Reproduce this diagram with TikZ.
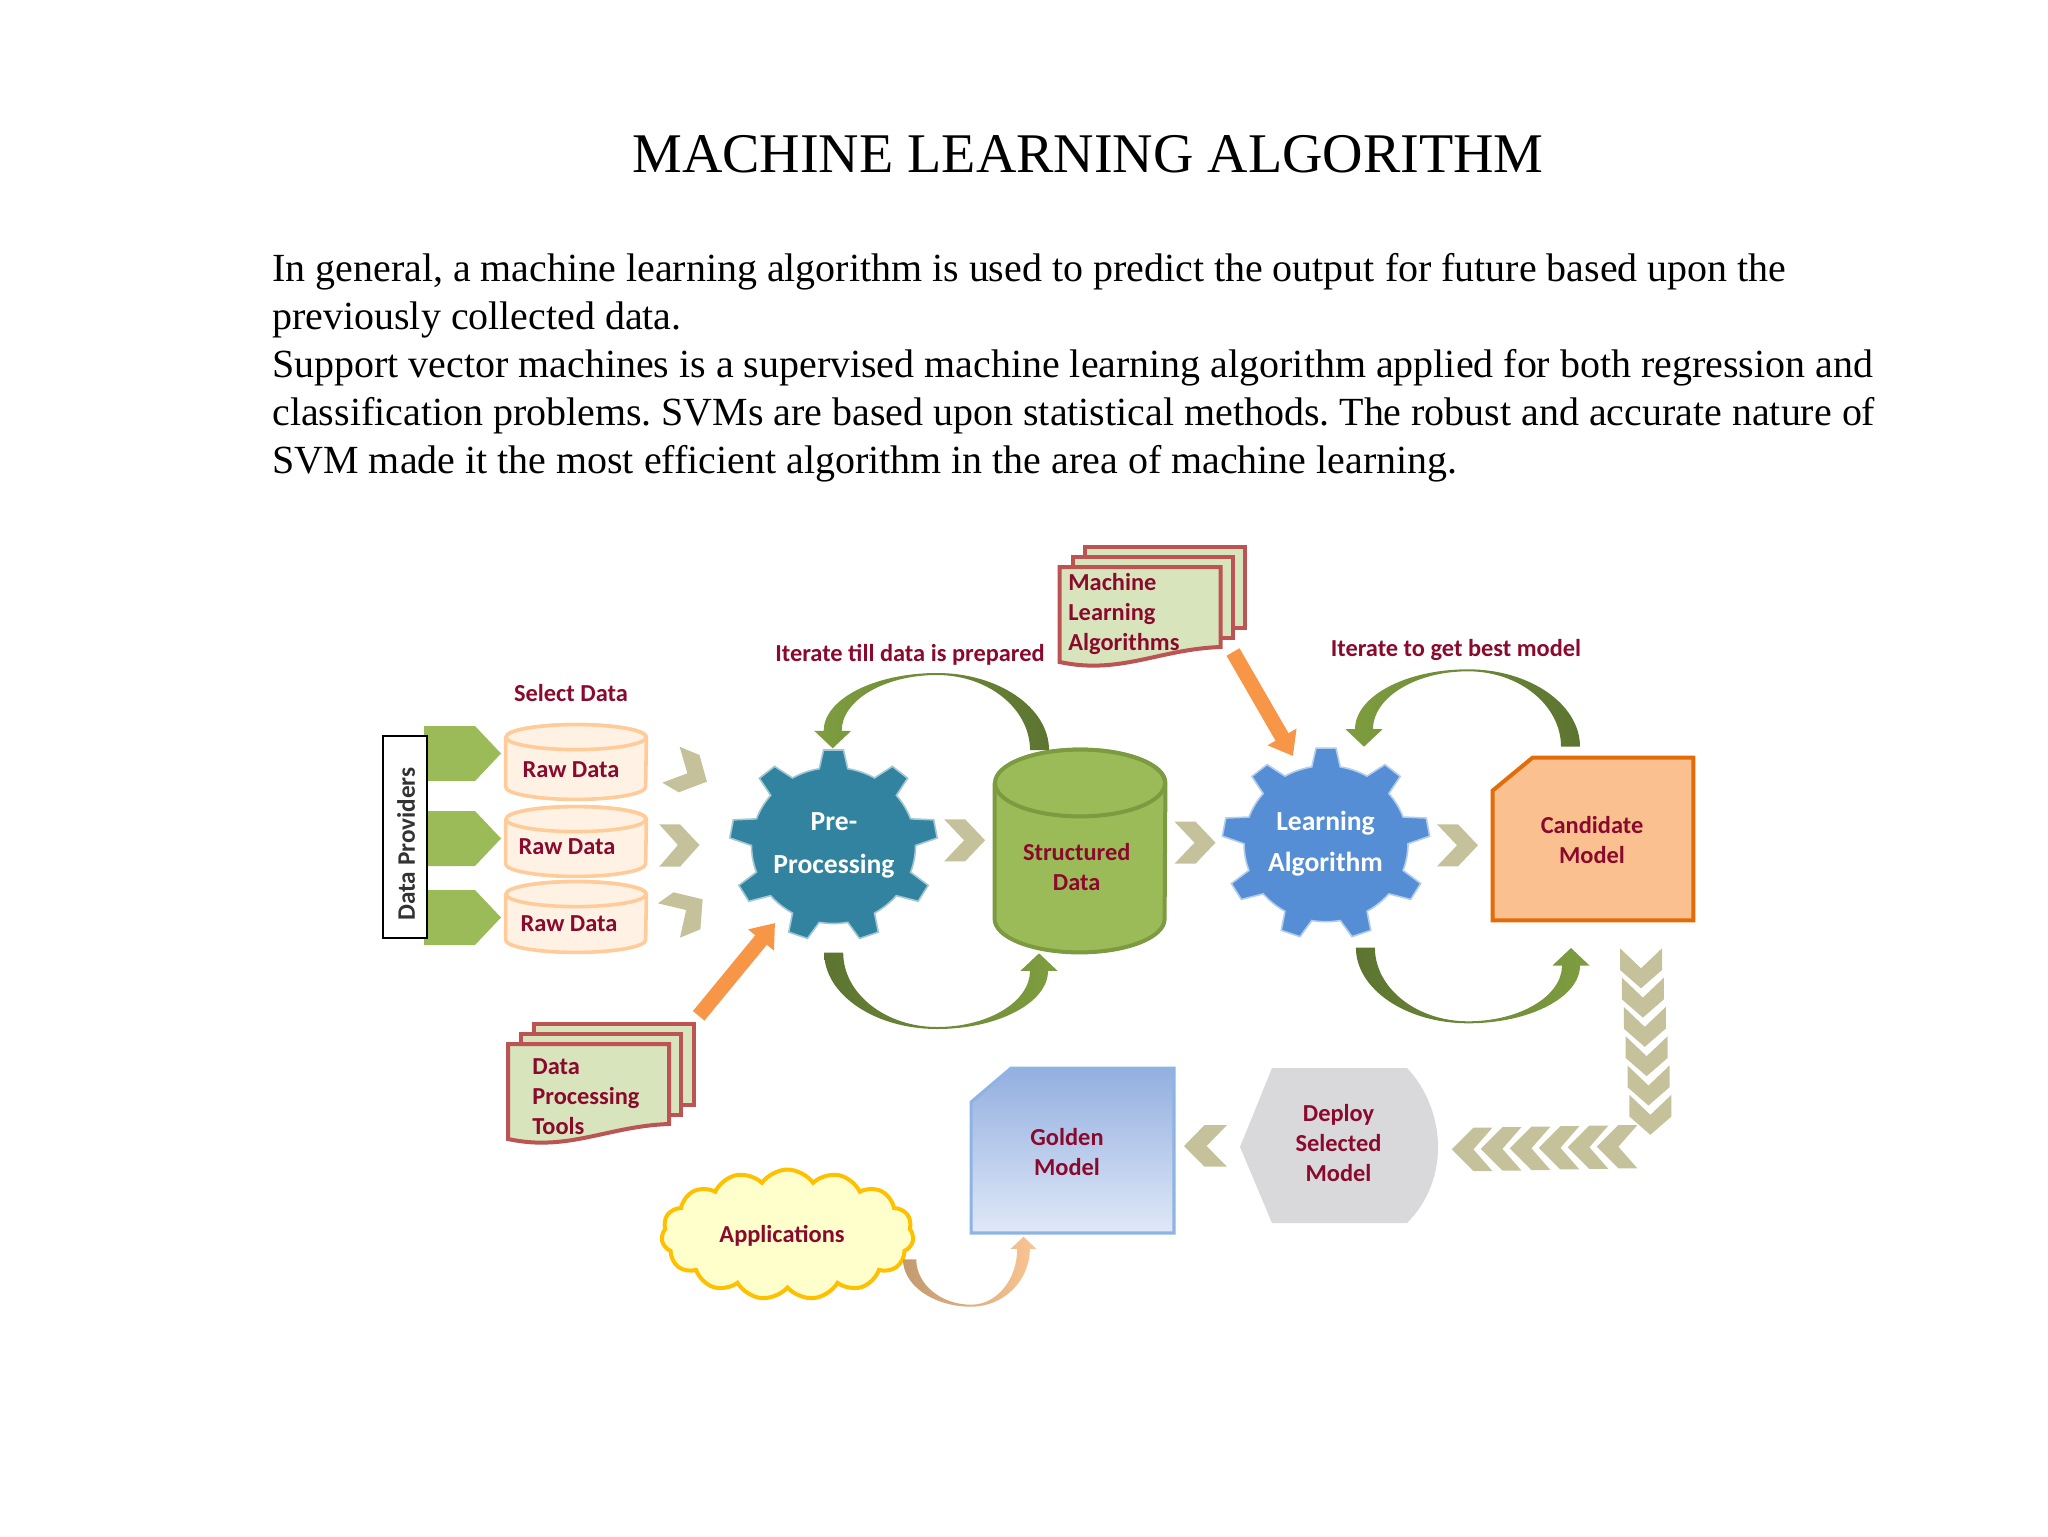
\documentclass[tikz,border=0pt]{standalone}
\usepackage{fontspec}
\setmainfont{Liberation Serif}
\newfontfamily\labelfont{Carlito}
\usetikzlibrary{arrows.meta, positioning, shapes.symbols, calc}

\definecolor{labelred}{HTML}{8A0A2E}
\definecolor{chevcol}{HTML}{C4C19B}
\definecolor{provgreen}{HTML}{9BBB59}
\definecolor{drumline}{HTML}{7C9A3F}
\definecolor{loopdark}{HTML}{5C7430}
\definecolor{looplight}{HTML}{7F9E3F}
\definecolor{pregear}{HTML}{31839F}
\definecolor{learngear}{HTML}{558ED5}
\definecolor{sheetline}{HTML}{BC5454}
\definecolor{sheetfill}{HTML}{D7E4BC}
\definecolor{toolorange}{HTML}{F79646}
\definecolor{deploygrey}{HTML}{D9D8DB}
\definecolor{candline}{HTML}{E36C09}
\definecolor{candfill}{HTML}{FBC08F}
\definecolor{goldtop}{HTML}{93AFE0}
\definecolor{goldbot}{HTML}{E0E8F7}
\definecolor{goldline}{HTML}{8DB4E2}
\definecolor{cloudline}{HTML}{FFC000}
\definecolor{cloudfill}{HTML}{FFFFCC}
\definecolor{appsdark}{HTML}{C29A6E}
\definecolor{appslight}{HTML}{FBC593}

% gear: centre, fill colour
\newcommand{\gearblob}[2]{
    \fill[#2, draw=#2!45, line width=0.8pt] ($(#1)+(80:41pt and 39pt)$)
        \foreach \a in {90,130,...,410} {
            -- ($(#1)+(\a-10:41pt and 39pt)$) -- ($(#1)+(\a-5.5:52pt and 48pt)$)
            -- ($(#1)+(\a+5.5:52pt and 48pt)$) -- ($(#1)+(\a+10:41pt and 39pt)$)
            arc[start angle=\a+10, end angle=\a+30, x radius=41pt, y radius=39pt]
        } -- cycle;
}

% drum around a node: node, style, end radius
\newcommand{\drum}[3]{
    \draw[#2] ($(#1.north west)-(0,#3)$) -- ($(#1.south west)+(0,#3)$)
        arc[start angle=180, end angle=360, x radius=0.5*\pgfkeysvalueof{/pgf/minimum width}, y radius=#3]
        -- ($(#1.north east)-(0,#3)$)
        arc[start angle=0, end angle=180, x radius=0.5*\pgfkeysvalueof{/pgf/minimum width}, y radius=#3];
    \draw[#2] ($(#1.north)-(0,#3)$) ellipse[x radius=0.5*\pgfkeysvalueof{/pgf/minimum width}, y radius=#3];
}

% card with one cut corner around a node: node, style, cut x, cut y
\newcommand{\cutcard}[4]{
    \draw[#2] ($(#1.north west)+(#3,0)$) -- (#1.north east) -- (#1.south east)
        -- (#1.south west) -- ($(#1.north west)-(0,#4)$) -- cycle;
}

% tapered bend arrow: style, tail, apex, tip, side, head direction, size
\newcommand{\bendarrow}[7]{
    \coordinate (bTo) at ($(#2)+(#5*#7*4.75pt,0)$);
    \coordinate (bTi) at ($(#2)-(#5*#7*4.75pt,0)$);
    \coordinate (bAi) at ($(#3)-(0,#6*1pt)$);
    \coordinate (bHo) at ($(#4)+(-#5*#7*4.5pt,#6*#7*8.75pt)$);
    \coordinate (bHi) at ($(#4)+(#5*#7*4.5pt,#6*#7*8.75pt)$);
    \shade[#1] (bTo)
        .. controls ($(bTo)!0.55!(bTo|-#3)$) and ($(#3)!0.55!(#3-|bTo)$) .. (#3)
        .. controls ($(#3)!0.55!(#3-|bHo)$) and ($(bHo)!0.55!(bHo|-#3)$) .. (bHo)
        -- ($(#4)+(-#5*#7*9.25pt,#6*#7*8.75pt)$) -- (#4)
        -- ($(#4)+(#5*#7*9.25pt,#6*#7*8.75pt)$) -- (bHi)
        .. controls ($(bHi)!0.55!(bHi|-bAi)$) and ($(bAi)!0.55!(bAi-|bHi)$) .. (bAi)
        .. controls ($(bAi)!0.55!(bAi-|bTi)$) and ($(bTi)!0.55!(bTi|-bAi)$) .. (bTi)
        -- cycle;
}

% three stacked sheets, first corner of the front sheet given
\newcommand{\docstack}[2]{
    \begin{scope}[shift={(#1,#2)}]
        \draw[sheet] (25.5,-20.5) rectangle (185.5,60.5);
        \draw[sheet] (13,-10.5) rectangle (173,71);
        \draw[sheet] (0,0) -- (161,0) -- (161,80)
            .. controls (100,82) and (60,108) .. (0,95) -- cycle;
    \end{scope}
}

\begin{document}
\frenchspacing
\begin{tikzpicture}[x=0.5pt, y=-0.5pt,
            redlabel/.style={font=\labelfont\bfseries\fontsize{12.2}{15}\selectfont, text=labelred, align=center, inner sep=0pt},
            whitelabel/.style={font=\labelfont\bfseries\fontsize{13.8}{21.5}\selectfont, text=white, align=center, inner sep=0pt},
            rawslot/.style={minimum width=70pt, inner sep=0pt},
            rawdrum/.style={draw=orange!40!white, line width=1.8pt, fill=orange!10!white, minimum width=70pt},
            datadrum/.style={draw=drumline, line width=2pt, fill=provgreen, minimum width=85pt},
            sheet/.style={draw=sheetline, line width=2pt, fill=sheetfill},
            chev/.style={fill=chevcol},
            toolarrow/.style={line width=7.5pt, toolorange, -{Triangle[length=11pt,width=16pt]}},
            cardslot/.style={inner sep=0pt},
            greenup/.style={left color=loopdark, right color=looplight},
            greendown/.style={left color=looplight, right color=loopdark}]

    \useasboundingbox (0,0) rectangle (2048,1536);

    % Title and text
    \node[font=\fontsize{28}{32}\selectfont, inner sep=0pt] (title) at (1088,154) {MACHINE LEARNING ALGORITHM};
    \node[font=\fontsize{19.97}{24}\selectfont, align=left, anchor=north west, inner sep=0pt] (intro) at (272,253) {In general, a machine learning algorithm is used to predict the output for future based upon the\\
        previously collected data.\\
        Support vector machines is a supervised machine learning algorithm applied for both regression and\\
        classification problems. SVMs are based upon statistical methods. The robust and accurate nature of\\
        SVM made it the most efficient algorithm in the area of machine learning.};

    % Data providers and raw data
    \foreach \y in {726,811,890}
        \fill[provgreen] (424,\y) -- (475,\y) -- (501,\y+27.5) -- (475,\y+55) -- (424,\y+55) -- cycle;
    \node[draw, fill=white, line width=1pt, minimum width=22pt, minimum height=101pt, inner sep=0pt] (providers) at (404.7,837) {};
    \node[rotate=90, inner sep=0pt, font=\labelfont\bfseries\fontsize{12.6}{15}\selectfont, text=black!80] (providers text) at (406,844) {Data Providers};
    \node[rawslot, minimum height=37pt] (raw1) at (576,762) {};
    \node[rawslot, minimum height=34.5pt] (raw2) at (576,841.5) {};
    \node[rawslot, minimum height=35pt] (raw3) at (576,917) {};
    \drum{raw1}{rawdrum}{6.25pt}
    \drum{raw2}{rawdrum}{6.25pt}
    \drum{raw3}{rawdrum}{6.25pt}
    \node[redlabel] (raw1 text) at (571,770) {Raw Data};
    \node[redlabel] (raw2 text) at (567,847) {Raw Data};
    \node[redlabel] (raw3 text) at (569,924) {Raw Data};
    \node[redlabel] (select) at (571,693) {Select Data};

    % Chevrons towards the gear
    \fill[chev] (679.6,746.7) -- (699.5,755) -- (706.9,781.7) -- (678.7,792.3) -- (662.3,782.7) -- (687.4,773.3) -- cycle;
    \fill[chev] (659.2,824.3) -- (680,824.3) -- (699.5,845) -- (680,866.7) -- (659.2,866.7) -- (677.9,845) -- cycle;
    \fill[chev] (657.9,903.3) -- (673.5,892.3) -- (702.6,899.3) -- (700.4,929.3) -- (680,937.7) -- (686.1,910) -- cycle;

    % Pre-processing gear
    \coordinate (pre centre) at (833.5,845.5);
    \gearblob{pre centre}{pregear}
    \node[whitelabel] (pre) at (834,845.5) {Pre-\\Processing};

    % Structured data
    \node[minimum width=85pt, minimum height=101pt, inner sep=0pt] (structured) at (1080,851) {};
    \drum{structured}{datadrum}{16.7pt}
    \node[redlabel] (structured text) at (1076.7,867) {Structured\\Data};

    \foreach \x/\y in {944.1/819.3, 1174.5/821.7, 1437/824.3}
        \fill[chev] (\x,\y) -- (\x+21,\y) -- (\x+41,\y+21) -- (\x+21,\y+42) -- (\x,\y+42) -- (\x+20,\y+21) -- cycle;

    % Learning gear
    \coordinate (learn centre) at (1326,843.7);
    \gearblob{learn centre}{learngear}
    \node[whitelabel, font=\labelfont\bfseries\fontsize{13.8}{20.5}\selectfont] (learn) at (1325.5,843.5) {Learning\\Algorithm};

    % Candidate model
    \node[cardslot, minimum width=100pt, minimum height=81pt] (candidate) at (1593,839) {};
    \cutcard{candidate}{draw=candline, line width=2pt, fill=candfill}{20pt}{16.5pt}
    \node[redlabel] (candidate text) at (1592,840) {Candidate\\Model};

    % Iteration loops
    \coordinate (preTopTail) at (1039.5,750);
    \coordinate (preTopApex) at (937,673);
    \coordinate (preTopTip) at (832.7,748.3);
    \bendarrow{greendown}{preTopTail}{preTopApex}{preTopTip}{1}{1}{1}
    \coordinate (preBotTail) at (833.7,952.7);
    \coordinate (preBotApex) at (937,1029);
    \coordinate (preBotTip) at (1039,953.3);
    \bendarrow{greenup}{preBotTail}{preBotApex}{preBotTip}{-1}{-1}{1}
    \coordinate (learnTopTail) at (1570.5,746.7);
    \coordinate (learnTopApex) at (1468,669.3);
    \coordinate (learnTopTip) at (1364,746.7);
    \bendarrow{greendown}{learnTopTail}{learnTopApex}{learnTopTip}{1}{1}{1}
    \coordinate (learnBotTail) at (1365.4,947.7);
    \coordinate (learnBotApex) at (1468,1023.3);
    \coordinate (learnBotTip) at (1571,948);
    \bendarrow{greenup}{learnBotTail}{learnBotApex}{learnBotTip}{-1}{-1}{1}
    \node[redlabel] (iter pre) at (910,655) {Iterate till data is prepared};
    \node[redlabel] (iter best) at (1456,650) {Iterate to get best model};

    % Tool sheets
    \docstack{508}{1044}
    \node[redlabel, align=left, anchor=north west] (tools) at (532,1058) {Data\\Processing\\Tools};
    \docstack{1059.7}{567}
    \node[redlabel, align=left, anchor=north west] (mlalgs) at (1068,573) {Machine\\Learning\\Algorithms};
    \coordinate (toolsTail) at (698.7,1015.8);
    \coordinate (toolsTip) at (775,923);
    \draw[toolarrow] (toolsTail) -- (toolsTip);
    \coordinate (mlTail) at (1233,652);
    \coordinate (mlTip) at (1293,756);
    \draw[toolarrow] (mlTail) -- (mlTip);

    % Chevrons to the deployed model
    \foreach \n in {0,...,5}
        \fill[chev] ({1641+1.87*\n-21},{948.3+29.3*\n}) -- ++(21,20) -- ++(21,-20) -- ++(0,21.7) -- ++(-21,18.3) -- ++(-21,-18.3) -- cycle;
    \foreach \n in {0,...,5}
        \fill[chev] ({1596.7-29*\n},{1146.7+0.53*\n}) -- ++(21.7,-21.7) -- ++(19,0) -- ++(-19,21.7) -- ++(19,21.7) -- ++(-19,0) -- cycle;

    % Deploy and golden model
    \fill[deploygrey] (1272,1068) -- (1407,1068) .. controls (1428,1090) and (1438,1120) .. (1438,1147)
        .. controls (1438,1175) and (1428,1202) .. (1407,1223) -- (1272,1223) -- (1240,1147) -- cycle;
    \node[redlabel] (deploy) at (1338.5,1143) {Deploy\\Selected\\Model};
    \fill[chev] (1227,1125) -- (1204.6,1125) -- (1184,1146) -- (1204.6,1166.7) -- (1227,1166.7) -- (1206.6,1146) -- cycle;
    \node[cardslot, minimum width=101pt, minimum height=82pt] (golden) at (1072.5,1150.5) {};
    \cutcard{golden}{draw=goldline, line width=1.6pt, top color=goldtop, bottom color=goldbot}{20pt}{17pt}
    \node[redlabel] (golden text) at (1067,1152) {Golden\\Model};

    % Applications
    \node[cloud, cloud puffs=15, cloud puff arc=110, aspect=1.9, draw=cloudline, line width=2pt, fill=cloudfill, minimum width=126pt, minimum height=65pt, inner sep=0pt] (apps) at (787.5,1234.5) {};
    \node[redlabel] (apps text) at (782,1236) {Applications};
    \coordinate (appsTail) at (909.6,1259.3);
    \coordinate (appsApex) at (971.3,1306.7);
    \coordinate (appsTip) at (1023.5,1236.7);
    \bendarrow{left color=appsdark, right color=appslight}{appsTail}{appsApex}{appsTip}{-1}{-1}{0.7}

\end{tikzpicture}
\end{document}
